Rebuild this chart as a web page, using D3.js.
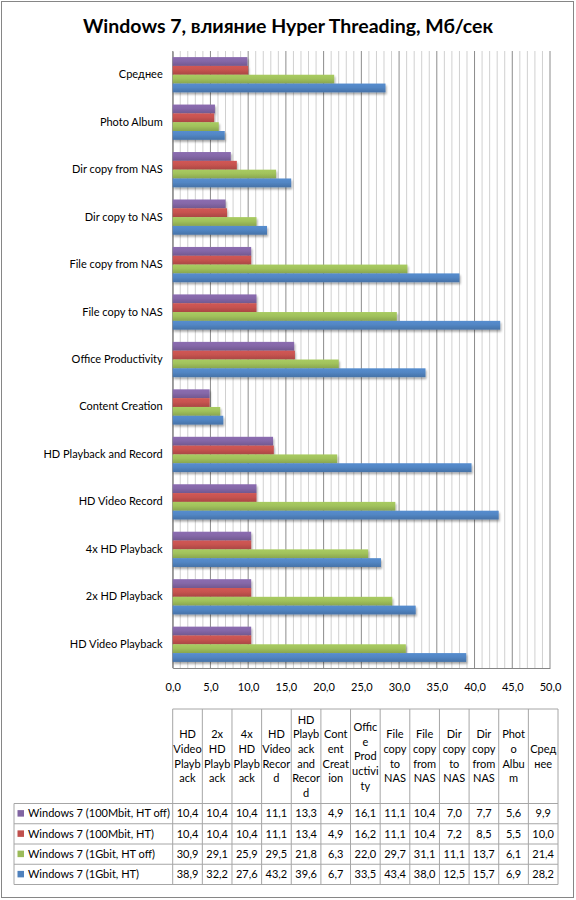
<!DOCTYPE html>
<html>
<head>
<meta charset="utf-8">
<script src="https://cdn.jsdelivr.net/npm/d3@7"></script>
<style>
  body { margin: 0; background: #fff; }
  text { font-family: Lato, "Open Sans", sans-serif; fill: #000; }
</style>
</head>
<body>
<div id="chart"></div>
<script>
// categories, bottom to top in the plot, left to right in the table
var categories = ["HD Video Playback", "2x HD Playback", "4x HD Playback", "HD Video Record",
  "HD Playback and Record", "Content Creation", "Office Productivity", "File copy to NAS",
  "File copy from NAS", "Dir copy to NAS", "Dir copy from NAS", "Photo Album", "Среднее"];

// header text of the data table, wrapped as in the picture
var headerLines = [
  ["HD", "Video", "Playb", "ack"],
  ["2x", "HD", "Playb", "ack"],
  ["4x", "HD", "Playb", "ack"],
  ["HD", "Video", "Recor", "d"],
  ["HD", "Playb", "ack", "and", "Recor", "d"],
  ["Cont", "ent", "Creat", "ion"],
  ["Offic", "e", "Prod", "uctivi", "ty"],
  ["File", "copy", "to", "NAS"],
  ["File", "copy", "from", "NAS"],
  ["Dir", "copy", "to", "NAS"],
  ["Dir", "copy", "from", "NAS"],
  ["Phot", "o", "Albu", "m"],
  ["Сред", "нее"]
];

var seriesNames = ["Windows 7 (100Mbit, HT off)", "Windows 7 (100Mbit, HT)",
  "Windows 7 (1Gbit, HT off)", "Windows 7 (1Gbit, HT)"];
var seriesColors = ["#8064A2", "#C0504D", "#9BBB59", "#4F81BD"];

var win100HtOff = [10.4, 10.4, 10.4, 11.1, 13.3, 4.9, 16.1, 11.1, 10.4, 7.0, 7.7, 5.6, 9.9];
var win100Ht    = [10.4, 10.4, 10.4, 11.1, 13.4, 4.9, 16.2, 11.1, 10.4, 7.2, 8.5, 5.5, 10.0];
var win1gHtOff  = [30.9, 29.1, 25.9, 29.5, 21.8, 6.3, 22.0, 29.7, 31.1, 11.1, 13.7, 6.1, 21.4];
var win1gHt     = [38.9, 32.2, 27.6, 43.2, 39.6, 6.7, 33.5, 43.4, 38.0, 12.5, 15.7, 6.9, 28.2];

var majorTicks = [0, 5, 10, 15, 20, 25, 30, 35, 40, 45, 50];
var minorTicks = [1, 2, 3, 4, 6, 7, 8, 9, 11, 12, 13, 14, 16, 17, 18, 19, 21, 22, 23, 24,
  26, 27, 28, 29, 31, 32, 33, 34, 36, 37, 38, 39, 41, 42, 43, 44, 46, 47, 48, 49];

var series = [win100HtOff, win100Ht, win1gHtOff, win1gHt];

var svgWidth = 576;
var svgHeight = 900;

var plot = { left: 172.7, right: 550, top: 51, bottom: 668 };

var svg = d3.select("#chart")
  .append("svg")
  .attr("width", svgWidth)
  .attr("height", svgHeight);

var defs = svg.append("defs");

// Excel 2007 style shading on each bar
seriesColors.forEach(function(c, i) {
  var base = d3.rgb(c);
  var g = defs.append("linearGradient")
    .attr("id", "grad" + i)
    .attr("x1", 0).attr("y1", 0).attr("x2", 0).attr("y2", 1);
  g.append("stop").attr("offset", "0%").attr("stop-color", base.brighter(0.25));
  g.append("stop").attr("offset", "45%").attr("stop-color", base.brighter(0.1));
  g.append("stop").attr("offset", "100%").attr("stop-color", base.darker(0.35));
});

var shadow = defs.append("filter").attr("id", "shadow")
  .attr("x", "-5%").attr("y", "-20%").attr("width", "115%").attr("height", "160%");
shadow.append("feGaussianBlur").attr("in", "SourceAlpha").attr("stdDeviation", 0.8);
shadow.append("feOffset").attr("dx", 1.2).attr("dy", 1.5).attr("result", "off");
shadow.append("feComponentTransfer").append("feFuncA").attr("type", "linear").attr("slope", 0.35);
var merge = shadow.append("feMerge");
merge.append("feMergeNode");
merge.append("feMergeNode").attr("in", "SourceGraphic");

// chart frame
svg.append("rect")
  .attr("x", 1.5).attr("y", 1.5)
  .attr("width", 572).attr("height", 896)
  .attr("fill", "#fff")
  .attr("stroke", "#868686");

// title
svg.append("text")
  .attr("x", 288)
  .attr("y", 33)
  .attr("text-anchor", "middle")
  .style("font-size", "19.5px")
  .style("font-weight", "bold")
  .text("Windows 7, влияние Hyper Threading, Мб/сек");

// scales
var xScale = d3.scaleLinear()
  .domain([0, 50])
  .range([plot.left, plot.right]);

var yScale = d3.scaleBand()
  .domain(categories)
  .range([plot.bottom, plot.top])
  .paddingInner(0.257)
  .paddingOuter(0.1285);

var ySub = d3.scaleBand()
  .domain(d3.range(series.length))
  .range([0, yScale.bandwidth()]);

// gridlines
svg.append("g")
  .selectAll("line")
  .data(minorTicks)
  .enter()
  .append("line")
  .attr("x1", d => xScale(d)).attr("x2", d => xScale(d))
  .attr("y1", plot.top).attr("y2", plot.bottom)
  .attr("stroke", "#d0d0d0")
  .attr("stroke-width", 1);

svg.append("g")
  .selectAll("line")
  .data(majorTicks)
  .enter()
  .append("line")
  .attr("x1", d => xScale(d)).attr("x2", d => xScale(d))
  .attr("y1", plot.top).attr("y2", plot.bottom)
  .attr("stroke", "#8c8c8c")
  .attr("stroke-width", 1);

// value axis at the bottom
var bottomAxis = d3.axisBottom(xScale)
  .tickValues(majorTicks)
  .tickSize(0)
  .tickPadding(15)
  .tickFormat(d => d3.format(".1f")(d).replace(".", ","));

var xAxis = svg.append("g")
  .attr("transform", `translate(0, ${plot.bottom})`)
  .call(bottomAxis);
xAxis.select(".domain").attr("stroke", "#868686");
xAxis.selectAll("text")
  .style("font-size", "11px")
  .style("font-family", "Lato, sans-serif")
  .attr("fill", "#000");

// category axis on the left
var leftAxis = d3.axisLeft(yScale)
  .tickSize(0)
  .tickPadding(10);

var yAxis = svg.append("g")
  .attr("transform", `translate(${plot.left}, 0)`)
  .call(leftAxis);
yAxis.select(".domain").attr("stroke", "#868686");
yAxis.selectAll("text")
  .style("font-size", "11px")
  .style("font-family", "Lato, sans-serif")
  .attr("fill", "#000");

// bars
var barGroups = svg.append("g")
  .selectAll("g")
  .data(series)
  .enter()
  .append("g")
  .attr("fill", (d, i) => "url(#grad" + i + ")")
  .attr("filter", "url(#shadow)");

barGroups.each(function(vals, si) {
  d3.select(this).selectAll("rect")
    .data(vals)
    .enter()
    .append("rect")
    .attr("x", xScale(0))
    .attr("y", (d, ci) => yScale(categories[ci]) + ySub(si))
    .attr("width", d => xScale(d) - xScale(0))
    .attr("height", ySub.bandwidth());
});

// data table
var table = { left: 14, colLeft: 172.7, right: 558, top: 709, headBottom: 803.5, rowH: 20.25 };

var colScale = d3.scaleBand()
  .domain(categories)
  .range([table.colLeft, table.right]);

var rowScale = d3.scaleBand()
  .domain(seriesNames)
  .range([table.headBottom, table.headBottom + table.rowH * seriesNames.length]);

var tableG = svg.append("g");
var lineColor = "#a6a6a6";
var tableBottom = rowScale.range()[1];

// horizontal rules
tableG.append("line")
  .attr("x1", table.colLeft).attr("x2", table.right)
  .attr("y1", table.top).attr("y2", table.top)
  .attr("stroke", lineColor);

tableG.selectAll(".hrule")
  .data(seriesNames.concat(["end"]))
  .enter()
  .append("line")
  .attr("class", "hrule")
  .attr("x1", table.left).attr("x2", table.right)
  .attr("y1", d => d === "end" ? tableBottom : rowScale(d))
  .attr("y2", d => d === "end" ? tableBottom : rowScale(d))
  .attr("stroke", lineColor);

// vertical rules
tableG.append("line")
  .attr("x1", table.left).attr("x2", table.left)
  .attr("y1", table.headBottom).attr("y2", tableBottom)
  .attr("stroke", lineColor);

tableG.selectAll(".vrule")
  .data(categories.concat(["end"]))
  .enter()
  .append("line")
  .attr("class", "vrule")
  .attr("x1", d => d === "end" ? table.right : colScale(d))
  .attr("x2", d => d === "end" ? table.right : colScale(d))
  .attr("y1", table.top).attr("y2", tableBottom)
  .attr("stroke", lineColor);

// header text
var headMid = (table.top + table.headBottom) / 2;
var lineH = 14.7;
categories.forEach(function(cat, ci) {
  var lines = headerLines[ci];
  var t = tableG.append("text")
    .attr("text-anchor", "middle")
    .style("font-size", "11px");
  lines.forEach(function(l, li) {
    t.append("tspan")
      .attr("x", colScale(cat) + colScale.bandwidth() / 2)
      .attr("y", headMid + (li - (lines.length - 1) / 2) * lineH + 4)
      .text(l);
  });
});

// legend keys and names
seriesNames.forEach(function(name, si) {
  var yMid = rowScale(name) + rowScale.bandwidth() / 2;
  tableG.append("rect")
    .attr("x", 17.5).attr("y", yMid - 3.5)
    .attr("width", 6.5).attr("height", 6.5)
    .attr("fill", seriesColors[si]);
  tableG.append("text")
    .attr("x", 28)
    .attr("y", yMid + 3.8)
    .style("font-size", "11px")
    .text(name);

  series[si].forEach(function(v, ci) {
    tableG.append("text")
      .attr("x", colScale(categories[ci]) + colScale.bandwidth() / 2)
      .attr("y", yMid + 3.8)
      .attr("text-anchor", "middle")
      .style("font-size", "11px")
      .text(d3.format(".1f")(v).replace(".", ","));
  });
});
</script>
</body>
</html>
